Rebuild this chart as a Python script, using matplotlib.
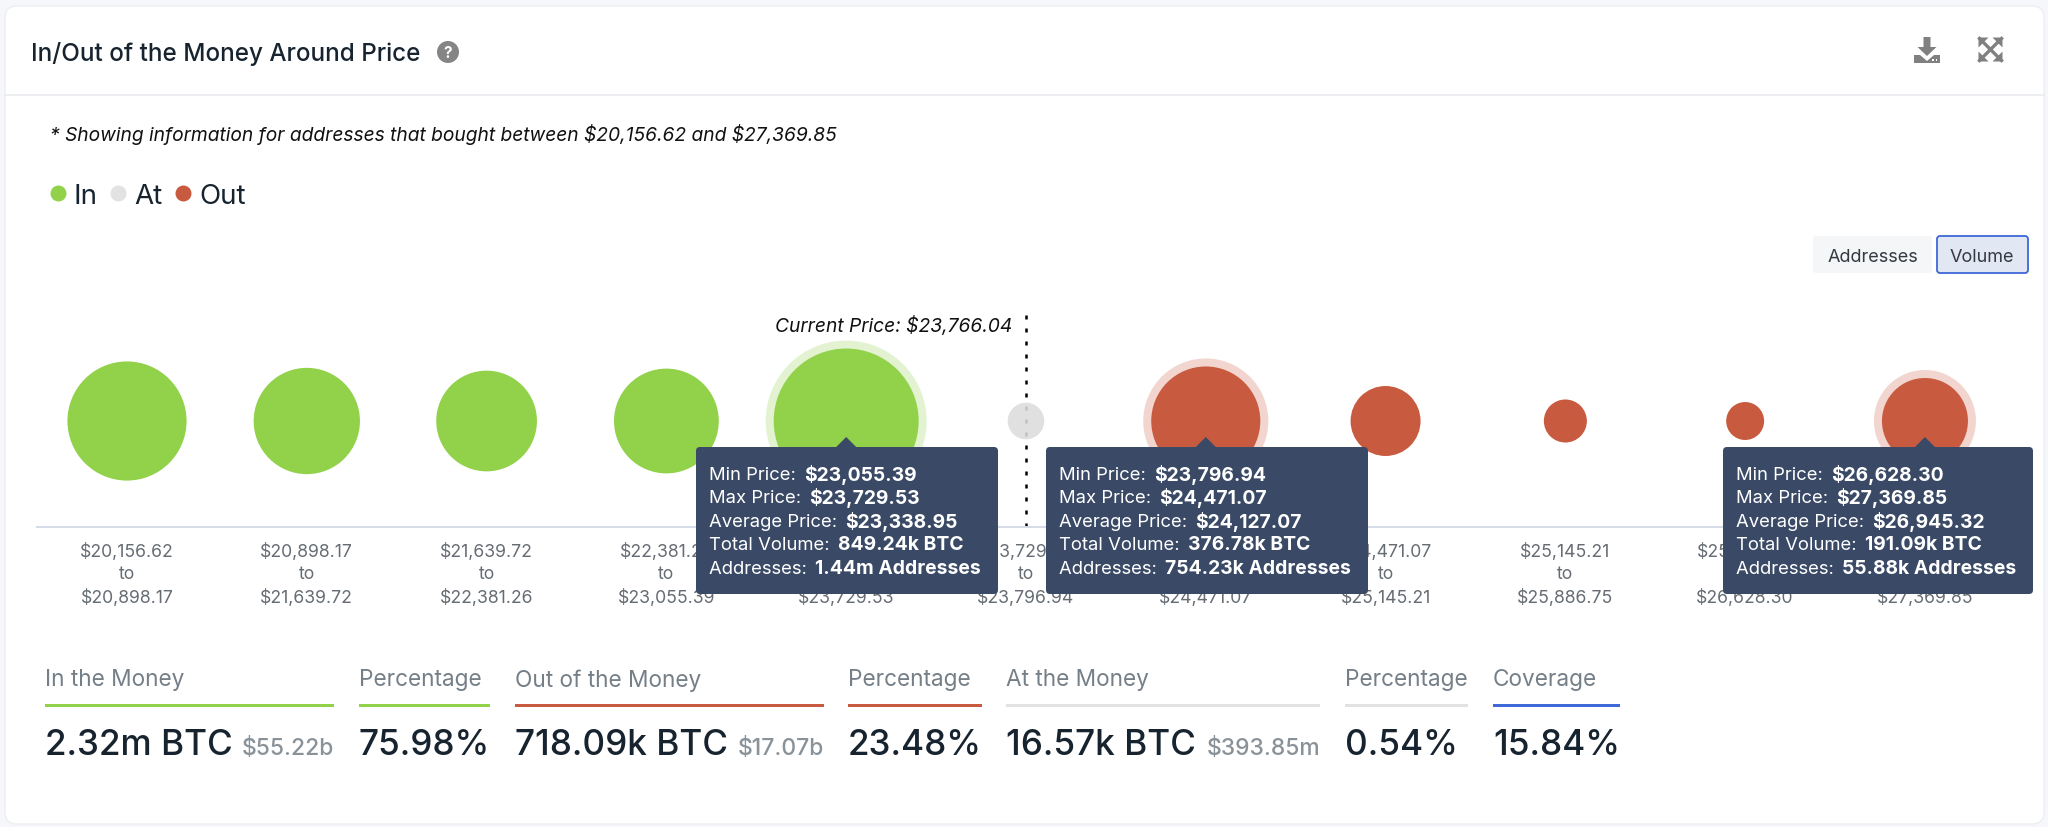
import numpy as np
import matplotlib
matplotlib.use('Agg')
import matplotlib.pyplot as plt
from matplotlib.colors import to_rgba
from matplotlib.lines import Line2D
from matplotlib.patches import Circle, FancyBboxPatch, Polygon, Rectangle

plt.rcParams['font.family'] = ['Inter', 'DejaVu Sans']

W, H = 2048, 828
GREEN = '#92d14a'
RED = '#c85b3f'
GREY = '#e2e2e2'
BLUE = '#3f68d8'
NAVY = '#3a4a66'
DARK = '#17242f'
MUTED = '#757f88'

# price range edges, one bubble per range
price_edges = ['20,156.62', '20,898.17', '21,639.72', '22,381.26', '23,055.39', '23,729.53',
               '23,796.94', '24,471.07', '25,145.21', '25,886.75', '26,628.30', '27,369.85']
# volume per range, k BTC (only the three tooltip ones and the At one are printed, rest estimated)
volumes = [485, 350, 300, 336, 849.24, 16.57, 376.78, 106, 26.4, 18.5, 191.09]
states = ['In', 'In', 'In', 'In', 'In', 'At', 'Out', 'Out', 'Out', 'Out', 'Out']
highlighted = [4, 6, 10]

tooltips = [
    (4, [('Min Price: ', '$23,055.39'), ('Max Price: ', '$23,729.53'), ('Average Price: ', '$23,338.95'),
         ('Total Volume: ', '849.24k BTC'), ('Addresses: ', '1.44m Addresses')]),
    (6, [('Min Price: ', '$23,796.94'), ('Max Price: ', '$24,471.07'), ('Average Price: ', '$24,127.07'),
         ('Total Volume: ', '376.78k BTC'), ('Addresses: ', '754.23k Addresses')]),
    (10, [('Min Price: ', '$26,628.30'), ('Max Price: ', '$27,369.85'), ('Average Price: ', '$26,945.32'),
          ('Total Volume: ', '191.09k BTC'), ('Addresses: ', '55.88k Addresses')]),
]
tooltip_boxes = {4: (696, 998), 6: (1046, 1368), 10: (1723, 2033)}

stat_labels = ['In the Money', 'Percentage', 'Out of the Money', 'Percentage', 'At the Money', 'Percentage', 'Coverage']
stat_values = ['2.32m BTC', '75.98%', '718.09k BTC', '23.48%', '16.57k BTC', '0.54%', '15.84%']
stat_usd = ['$55.22b', '', '$17.07b', '', '$393.85m', '', '']
stat_colors = [GREEN, GREEN, RED, RED, GREY, GREY, BLUE]
stat_spans = [(45, 334), (359, 490), (515, 824), (848, 982), (1006, 1320), (1345, 1468), (1493, 1620)]

state_colors = {'In': GREEN, 'At': GREY, 'Out': RED}


def radius(v):
    # the site scales bubbles a bit flatter than by area
    return 6.84 * np.power(v, 0.35)


def px_to_s(r):
    return (2 * r * 0.72) ** 2


def round_box(ax, x0, y0, x1, y1, r, **kw):
    box = FancyBboxPatch((x0, y0), x1 - x0, y1 - y0, boxstyle=f'round,pad=0,rounding_size={r}', **kw)
    ax.add_patch(box)
    return box


fig = plt.figure(figsize=(W / 100, H / 100), dpi=100, facecolor='#f5f7fb')

# pixel space layer for the page furniture
bg = fig.add_axes([0, 0, 1, 1], zorder=0)
bg.set_xlim(0, W)
bg.set_ylim(H, 0)
bg.axis('off')
round_box(bg, 5, 7, 2044, 825, 12, fc='white', ec='#eceef2', lw=1)
bg.plot([5, 2044], [96, 96], color='#e9ebef', lw=1.2)
bg.text(31, 54.5, 'In/Out of the Money Around Price', fontsize=17.45, fontweight='medium', color=DARK, va='center')
bg.add_patch(Circle((448, 53), 11, fc='#858585', ec='none'))
bg.text(448, 53.5, '?', fontsize=11, fontweight='bold', color='white', ha='center', va='center')

# download icon
bg.add_patch(Polygon([(1923.5, 38), (1930.5, 38), (1930.5, 48), (1936.5, 48), (1927, 57), (1917.5, 48), (1923.5, 48)], fc='#808080', ec='none'))
bg.add_patch(Polygon([(1914, 56), (1920, 56), (1927, 62), (1934, 56), (1940, 56), (1940, 64), (1914, 64)], fc='#808080', ec='none'))
bg.add_patch(Rectangle((1932, 60), 1.6, 1.6, fc='white', ec='none'))
bg.add_patch(Rectangle((1935.5, 60), 1.6, 1.6, fc='white', ec='none'))
# expand icon
for sx, sy in [(-1, -1), (1, -1), (-1, 1), (1, 1)]:
    cx, cy = 1990.5 + sx * 11, 50.5 + sy * 11
    bg.add_patch(Polygon([(cx + sx, cy + sy), (cx - 9 * sx, cy + sy), (cx + sx, cy - 9 * sy)], fc='#808080', ec='none'))
    bg.plot([1990.5, cx], [50.5, cy], color='#808080', lw=2.4)

bg.text(50, 134.5, r'* Showing information for addresses that bought between \$20,156.62 and \$27,369.85',
        fontsize=13.84, style='italic', color='#111111', va='center')
bg.text(1012, 326, 'Current Price: $23,766.04', fontsize=13.85, style='italic', color='#111111', va='center', ha='right')

round_box(bg, 1813, 237, 1932, 274, 3, fc='#f5f6f7', ec='none')
bg.text(1873, 258, 'Addresses', fontsize=13, color='#333a42', ha='center', va='center')
round_box(bg, 1937, 237, 2028, 274, 3, fc='#e2e7f4', ec=BLUE, lw=1.3)
bg.text(1982, 258, 'Volume', fontsize=13, color='#333a42', ha='center', va='center')

handles = [Line2D([], [], ls='none', marker='o', ms=11.5, mec='none', color=state_colors[s], label=s)
           for s in ['In', 'At', 'Out']]
bg.legend(handles=handles, ncol=3, loc='center left', bbox_to_anchor=(48, 197), bbox_transform=bg.transData,
          frameon=False, fontsize=20, labelcolor='#17242f', handlelength=0.7, handletextpad=0.22,
          columnspacing=0.4, borderpad=0, borderaxespad=0)

# bubbles, x is the range index
ax = fig.add_axes([37 / W, 1 - 528 / H, (2017 - 37) / W, (528 - 316) / H], zorder=1)
ax.patch.set_alpha(0)
x = np.arange(len(volumes))
r = radius(np.array(volumes))
colors = [to_rgba('#dcdcdc', 0.88) if s == 'At' else state_colors[s] for s in states]
ax.scatter(x[highlighted], np.zeros(len(highlighted)), s=px_to_s(r[highlighted] + 8),
           c=[colors[i] for i in highlighted], alpha=0.25, linewidths=0, zorder=2, clip_on=False)
# the price line shows faintly through the At bubble
ax.axvline(5, color='black', lw=1.8, ls=(0, (1.6, 3.6)), zorder=2.5)
ax.scatter(x, np.zeros(len(x)), s=px_to_s(r), c=colors, linewidths=0, zorder=3, clip_on=False)
ax.set_xlim(-0.5006, 10.512)
ax.set_ylim(-1, 1)
ax.set_yticks([])
ax.set_xticks(x)
ax.set_xticklabels([f'${a}\nto\n${b}' for a, b in zip(price_edges[:-1], price_edges[1:])],
                   fontsize=12.7, color='#666c73', linespacing=1.38)
ax.tick_params(axis='x', length=0, pad=11)
for side in ['top', 'left', 'right']:
    ax.spines[side].set_visible(False)
ax.spines['bottom'].set_color('#d5dbe8')
ax.spines['bottom'].set_linewidth(1.4)

# top layer: tooltips and stats
top = fig.add_axes([0, 0, 1, 1], zorder=2)
top.patch.set_alpha(0)
top.set_xlim(0, W)
top.set_ylim(H, 0)
top.axis('off')

fig.canvas.draw()
rend = fig.canvas.get_renderer()
line_ys = [475.5, 498.5, 522.5, 545.5, 569.5]
for idx, rows in tooltips:
    x0, x1 = tooltip_boxes[idx]
    cx = ax.transData.transform((idx, 0))[0]
    round_box(top, x0, 448, x1, 595, 4, fc=NAVY, ec='none', zorder=3)
    top.add_patch(Polygon([(cx - 11, 449), (cx, 438), (cx + 11, 449)], fc=NAVY, ec='none', zorder=3))
    for (name, val), y in zip(rows, line_ys):
        t = top.text(x0 + 13, y, name, fontsize=13.3, color='white', va='center', zorder=4)
        end = t.get_window_extent(rend).x1
        top.text(end + 3, y, val, fontsize=13.9, fontweight='bold', color='white', va='center', zorder=4)

for label, value, usd, col, (x0, x1) in zip(stat_labels, stat_values, stat_usd, stat_colors, stat_spans):
    top.text(x0, 680.5, label, fontsize=16.3, color=MUTED, va='center')
    top.add_patch(Rectangle((x0, 704.5), x1 - x0, 3.2, fc=col, ec='none'))
    top.text(x0, 746, value, fontsize=25.3, fontweight='medium', color=DARK, va='center')
    if usd:
        top.text(x1, 749, usd, fontsize=16.5, fontweight='medium', color='#8a9299', va='center', ha='right')

fig.savefig('out.png', dpi=100, facecolor=fig.get_facecolor())
